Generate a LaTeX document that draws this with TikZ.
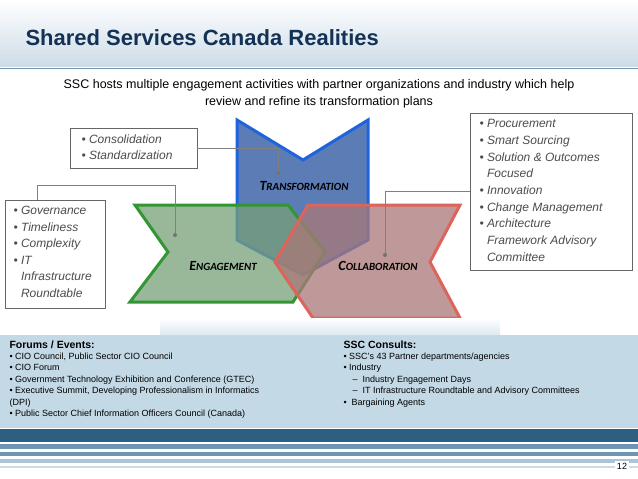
\documentclass[tikz,border=0pt]{standalone}
\usepackage{fontspec}
\setmainfont{Liberation Sans}
\newfontfamily\carl{Carlito}
\definecolor{ttl}{RGB}{20,50,85}
\definecolor{hdr}{RGB}{205,220,232}
\definecolor{pnl}{RGB}{196,217,230}
\definecolor{strA}{RGB}{45,95,130}
\definecolor{strB}{RGB}{110,150,180}
\definecolor{strC}{RGB}{170,195,215}
\definecolor{bluF}{RGB}{75,110,175}
\definecolor{bluE}{RGB}{30,100,220}
\definecolor{grnF}{RGB}{120,160,120}
\definecolor{grnE}{RGB}{50,150,50}
\definecolor{redF}{RGB}{170,120,120}
\definecolor{redE}{RGB}{220,100,90}
\begin{document}
\begin{tikzpicture}[x=1pt,y=-1pt,
  lbl/.style={font=\carl\bfseries\itshape\fontsize{14}{14}\selectfont},
  tbox/.style={draw=black!60,fill=white,inner sep=0pt},
  lead/.style={draw=black!50,line width=0.6pt},
  dotn/.style={circle,fill=black!55,inner sep=0pt,minimum size=4pt}]
\useasboundingbox (0,0) rectangle (638,479);
\fill[white] (0,0) rectangle (638,479);
\shade[top color=white,bottom color=hdr] (0,0) rectangle (638,66);
\draw[strB,line width=1pt] (0,68) -- (638,68);
\node[anchor=west,font=\bfseries\fontsize{22}{24}\selectfont,text=ttl] (title) at (22,38) {Shared Services Canada Realities};
\node[align=center,font=\fontsize{12.5}{17}\selectfont] (sub) at (319,94) {SSC hosts multiple engagement activities with partner organizations and industry which help\\review and refine its transformation plans};
% shapes
\path[fill=bluF,fill opacity=0.9,draw=bluE,line width=3pt] (237,120) -- (303,160) -- (368,120) -- (368,240) -- (303,275) -- (237,240) -- cycle;
\path[fill=grnF,fill opacity=0.75,draw=grnE,line width=3pt] (135,205) -- (288,205) -- (325,252) -- (293,302) -- (130,302) -- (168,252) -- cycle;
\path[fill=redF,fill opacity=0.75,draw=redE,line width=3pt] (308,205) -- (460,205) -- (430,262) -- (460,318) -- (313,318) -- (275,262) -- cycle;
\node[lbl] (tr) at (304,186) {T\fontsize{11}{11}\selectfont RANSFORMATION};
\node[lbl] (en) at (223,266) {E\fontsize{11}{11}\selectfont NGAGEMENT};
\node[lbl] (co) at (378,266) {C\fontsize{11}{11}\selectfont OLLABORATION};
\node[dotn] (d1) at (278,173) {};
\node[dotn] (d2) at (175,235) {};
\node[dotn] (d3) at (385,255) {};
% text boxes
\node[tbox,anchor=north west,minimum width=127pt,minimum height=40pt] (b1) at (70,128) {};
\node[anchor=north west,align=left,font=\itshape\fontsize{12}{16}\selectfont,text=black!70] at (78,131) {• Consolidation\\• Standardization};
\node[tbox,anchor=north west,minimum width=100pt,minimum height=108pt] (b2) at (5,200) {};
\node[anchor=north west,align=left,font=\itshape\fontsize{12}{16.5}\selectfont,text=black!70] at (10,203) {• Governance\\• Timeliness\\• Complexity\\• IT\\\phantom{• }Infrastructure\\\phantom{• }Roundtable};
\node[tbox,anchor=north west,minimum width=162pt,minimum height=157pt] (b3) at (470,113) {};
\node[anchor=north west,align=left,font=\itshape\fontsize{12}{16.7}\selectfont,text=black!70] at (476,116) {• Procurement\\• Smart Sourcing\\• Solution \& Outcomes\\\phantom{• }Focused\\• Innovation\\• Change Management\\• Architecture\\\phantom{• }Framework Advisory\\\phantom{• }Committee};
\draw[lead] (b1.east) -| (d1);
\draw[lead] (b2.north) ++(-18,0) coordinate (c2) |- (175,185) -- (d2);
\draw[lead] (b3.west) -| (d3);
% bottom panel
\shade[top color=white,bottom color=pnl!60] (160,318) rectangle (500,335);
\fill[pnl] (0,335) rectangle (638,428);
\node[anchor=north west,align=left,font=\fontsize{9}{11.4}\selectfont] (fe) at (6,337) {{\bfseries\fontsize{10.5}{12}\selectfont Forums / Events:}\\• CIO Council, Public Sector CIO Council\\• CIO Forum\\• Government Technology Exhibition and Conference (GTEC)\\• Executive Summit, Developing Professionalism in Informatics\\(DPI)\\• Public Sector Chief Information Officers Council (Canada)};
\node[anchor=north west,align=left,font=\fontsize{9}{11.4}\selectfont] (sc) at (340,337) {{\bfseries\fontsize{10.5}{12}\selectfont SSC Consults:}\\• SSC's 43 Partner departments/agencies\\• Industry\\\quad – \ Industry Engagement Days\\\quad – \ IT Infrastructure Roundtable and Advisory Committees\\• \ Bargaining Agents};
\fill[strA] (0,429) rectangle (638,442);
\fill[strB] (0,444) rectangle (638,449);
\fill[strB] (0,452) rectangle (638,456);
\fill[strC] (0,459) rectangle (638,463);
\fill[strC!60] (0,466) rectangle (638,468);
\node[fill=white,font=\fontsize{9}{10}\selectfont,inner sep=2pt] (pg) at (622,466) {12};
\end{tikzpicture}
\end{document}
